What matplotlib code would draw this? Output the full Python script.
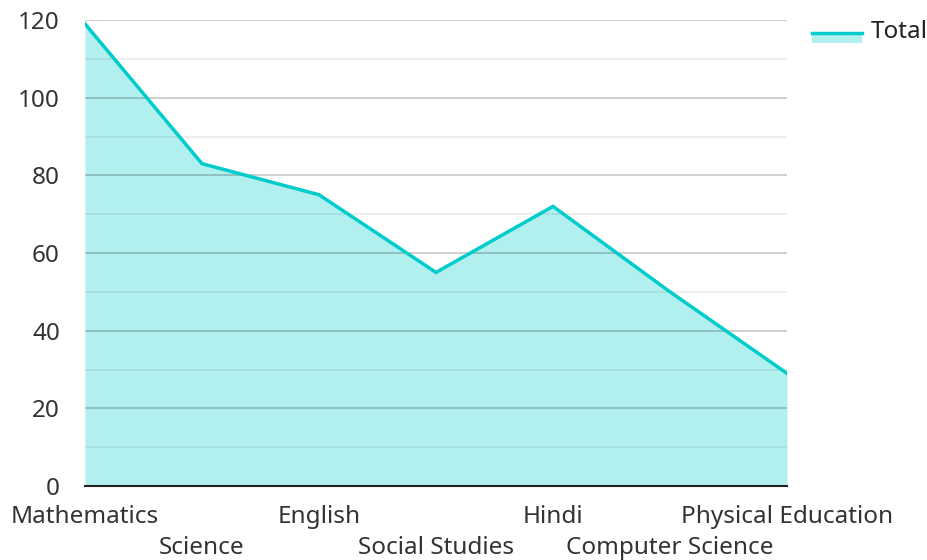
import matplotlib.pyplot as plt
from matplotlib.patches import Rectangle
from matplotlib.lines import Line2D

subjects = ['Mathematics', 'Science', 'English', 'Social Studies', 'Hindi',
            'Computer Science', 'Physical Education']
totals = [119, 83, 75, 55, 72, 50, 29]

lineColor = '#00cccc'
fillColor = '#b2efef'

plt.rcParams['font.family'] = ['Noto Sans', 'DejaVu Sans']

fig = plt.figure(figsize=(9.28, 5.6), dpi=100)
ax = fig.add_axes([85/928, 74/560, 702/928, 466/560])

x = list(range(len(subjects)))
ax.fill_between(x, totals, 0, color=fillColor, lw=0, zorder=1)
ax.plot(x, totals, color=lineColor, lw=2.5, zorder=3, solid_joinstyle='miter')

# grid: major every 20, minor every 10 (semi transparent so it darkens the fill)
for v in range(10, 121, 10):
    a = 0.22 if v % 20 == 0 else 0.08
    ax.axhline(v, color='black', alpha=a, lw=1.2, zorder=2)

ax.set_xlim(0, len(subjects) - 1)
ax.set_ylim(0, 120)
ax.set_yticks(range(0, 121, 20))
# stagger the category labels on two rows (odd ones as minor ticks, pushed lower)
ax.set_xticks(x[0::2], subjects[0::2])
ax.set_xticks(x[1::2], subjects[1::2], minor=True)
ax.tick_params(which='both', length=0, labelsize=17.5, labelcolor='#333333')
ax.tick_params(axis='y', pad=18)
ax.tick_params(axis='x', which='major', pad=14)
ax.tick_params(axis='x', which='minor', pad=36)
for side in ['left', 'right', 'top']:
    ax.spines[side].set_visible(False)
ax.spines['bottom'].set_color('#222222')
ax.spines['bottom'].set_linewidth(1.5)
ax.spines['bottom'].set_zorder(4)

# legend drawn at the top right
fig.patches.append(Rectangle((812/928, (560-43)/560), 50/928, 11/560,
                             transform=fig.transFigure, color=fillColor, lw=0))
fig.lines.append(Line2D([812/928, 862/928], [(560-33)/560] * 2,
                        transform=fig.transFigure, color=lineColor, lw=2.5))
fig.text(871/928, (560-32)/560, 'Total', fontsize=17.5, color='#222222', va='center')

fig.savefig('out.png', dpi=100)
